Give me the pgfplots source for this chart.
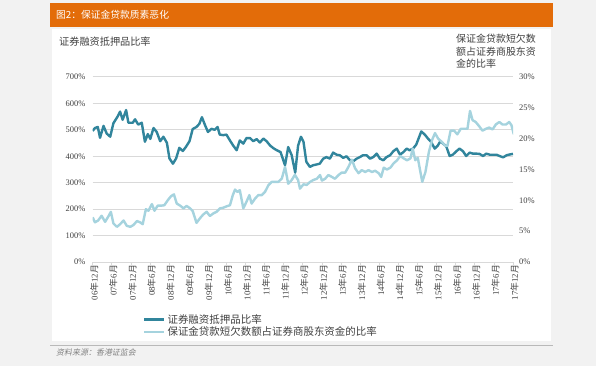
\documentclass[border=0pt]{standalone}
\usepackage{fontspec}
\setmainfont{Liberation Serif}
\newfontfamily\cjk{Noto Sans CJK SC}
\newfontfamily\cjkit[FakeSlant=0.2]{Noto Sans CJK SC}
\usepackage{pgfplots}
\pgfplotsset{compat=1.18}
\definecolor{bg}{HTML}{F2F2F2}
\definecolor{hdr}{HTML}{E36C09}
\definecolor{dark}{HTML}{31859C}
\definecolor{light}{HTML}{A5D3DE}
\definecolor{gridc}{HTML}{D9D9D9}
\definecolor{txt}{HTML}{404040}
\newcommand{\ym}[2]{#1{\cjk 年}#2{\cjk 月}}

\pgfplotstableread{
m v
0 496
0.7 507
1.6 511
2.3 470
3.4 515
4.4 486
5.5 474
6.5 525
7.8 550
8.6 569
9.4 538
10.5 575
11.2 527
12.6 527
13.3 540
14.3 520
15.4 527
16.4 455
17.3 484
18.1 466
19.1 507
20.1 492
21.2 457
22.2 474
23.3 451
24.1 392
25.2 372
26.2 392
27.2 432
28.3 420
29.3 436
30.4 457
31.4 503
32.6 511
33.5 523
34.3 548
35.2 520
36.2 492
37.3 504
38.3 500
39.2 511
39.9 482
41 480
42 482
43.1 460
44.1 441
45.2 423
46.2 460
47.3 448
48.3 469
49.4 469
50.4 457
51.5 465
52.5 452
53.6 467
54.6 457
55.7 441
56.7 431
57.8 423
59 416
60.4 366
61.4 435
62.5 404
63.6 338
64.5 440
65.4 474
66.2 455
67.1 379
68.2 360
69.2 366
70.3 369
71.3 372
72.4 391
73.4 397
74.5 391
75.5 414
76.6 406
77.6 404
78.7 394
79.7 400
80.8 385
81.8 381
82.9 391
83.9 397
84.9 404
86 404
87.1 391
88.1 397
89.2 410
90.2 391
91.3 385
92.3 397
93.4 404
94.4 419
95.5 429
96.5 406
97.6 416
98.6 429
99.5 423
100.6 429
101.6 444
103.2 494
104.3 482
105.3 467
106.3 454
107.4 429
108.4 441
109.2 457
110 448
111 439
112.1 401
113.1 406
114.2 419
115.2 429
116.3 419
117.3 401
118.4 414
119.4 410
120.5 410
121.5 409
122.6 401
123.6 410
124.7 406
125.7 406
126.8 406
127.8 401
128.9 396
130 404
131 407
132 409
}\darktab

\pgfplotstableread{
m v
0 7.24
0.7 6.43
1.7 6.73
2.8 7.5
3.9 6.51
4.9 7.37
5.7 8.14
6.5 6.26
7.6 5.7
8.6 6.13
9.7 6.73
10.7 5.87
11.8 5.7
12.8 6.0
13.9 6.64
14.9 6.43
15.7 6.13
16.7 8.57
17.5 8.31
18.6 9.39
19.4 8.31
20.4 9.13
21.5 9.13
22.5 9.21
23.6 10.03
24.6 10.67
25.5 10.97
26.4 9.47
27.5 9.13
28.5 8.7
29.5 9.09
30.6 8.7
31.4 8.27
32.6 6.35
33.7 7.1
34.7 7.7
35.8 8.14
36.8 7.46
37.9 7.89
38.9 8.14
40 8.7
41 8.8
42.1 9.04
43.1 9.2
44 10.84
44.7 11.74
45.5 11.36
46.2 11.66
47.3 8.7
48.3 9.77
49.2 10.84
49.9 9.47
51 10.29
52 10.84
53.1 10.84
54.1 11.36
55.2 12.47
56.2 12.99
57.3 12.99
58.3 12.99
59.4 13.54
60.4 15.43
61.4 12.69
62.5 13.29
63.5 14.14
64.5 13.29
65.1 11.9
66.2 12.6
67.2 12.5
68.3 13
69.3 13.3
70.4 13.5
71.4 14.1
72 13.2
73 13.5
74 14.1
75.1 13.8
76.1 13.5
77.2 14.1
78.2 14.5
79.3 14.5
80.3 15.4
81.4 16.6
82.4 15.2
83.5 14.4
84.5 14.9
85.6 14.6
86.6 14.9
87.7 14.6
88.7 14.8
89.8 14.4
90.6 13.8
91.4 15.3
92.4 15
93.5 15.3
94.5 16
95.6 16.5
96.6 17.2
97.7 16.8
98.7 16.5
99.8 16.8
100.5 18.4
101.3 16.5
102.1 16.9
102.7 15.2
103.5 13
104.5 14.6
105.6 17.9
106.6 19.8
107.5 20.9
108.5 20
109.6 19.5
110.6 18.9
111.4 18.8
112.4 21.3
113.5 21.3
114.5 20.7
115.6 21.6
116.6 21.6
117.7 21.6
118.5 24.5
119.3 23
120.3 22.7
121.4 22
122.4 21.3
123.5 21.6
124.5 21.8
125.6 21.5
126.6 22.3
127.7 22.7
128.7 22.3
129.8 22.3
130.8 22.7
131.5 22.2
132.2 20.8
132.8 20.7
}\lighttab

\begin{document}
\begin{tikzpicture}[x=1bp,y=1bp]
\fill[bg] (0,0) rectangle (596,366);
\fill[hdr] (50,339) rectangle (553,363);
\fill[white] (51.5,25) rectangle (551,337);
\draw[gray!55, line width=0.8bp] (50,20.5) -- (553,20.5);
\node[anchor=west, text=white, inner sep=0, font=\cjk\fontsize{9.8}{11}\selectfont] at (56,351) {图2：保证金贷款质素恶化};
\node[anchor=west, text=txt, inner sep=0, font=\cjk\fontsize{10.2}{12}\selectfont] at (59,324) {证券融资抵押品比率};
\node[anchor=north west, align=left, text=txt, inner sep=0, font=\cjk\fontsize{10}{12.5}\selectfont] at (456,332) {保证金贷款短欠数\\额占证券商股东资\\金的比率};
\node[anchor=west, text=gray, inner sep=0, font=\cjkit\fontsize{8}{10}\selectfont] at (56,14) {资料来源：香港证监会};

\begin{axis}[
  at={(92.7bp,104bp)}, anchor=south west, scale only axis,
  width=420.3bp, height=185bp,
  xmin=0, xmax=132, ymin=0, ymax=700,
  axis x line*=bottom, axis y line*=left,
  x axis line style={draw=gridc, line width=1bp, -},
  y axis line style={draw=none},
  ymajorgrids, grid style={draw=gridc, line width=1bp},
  ytick={0,100,...,700},
  yticklabels={0\%,100\%,200\%,300\%,400\%,500\%,600\%,700\%},
  ytick style={draw=none},
  yticklabel style={inner sep=0pt, xshift=-4bp, text=txt, font=\fontsize{8.5}{10}\selectfont},
  xtick={0,6,...,132},
  xticklabels={\ym{06}{12},\ym{07}{6},\ym{07}{12},\ym{08}{6},\ym{08}{12},\ym{09}{6},\ym{09}{12},\ym{10}{6},\ym{10}{12},\ym{11}{6},\ym{11}{12},\ym{12}{6},\ym{12}{12},\ym{13}{6},\ym{13}{12},\ym{14}{6},\ym{14}{12},\ym{15}{6},\ym{15}{12},\ym{16}{6},\ym{16}{12},\ym{17}{6},\ym{17}{12}},
  xtick style={draw=gridc, line width=0.8bp},
  tick align=outside, major tick length=3bp,
  xticklabel style={rotate=90, anchor=east, inner sep=0pt, yshift=-1.5bp, text=txt, font=\fontsize{8.8}{10}\selectfont},
  legend style={at={(0.1125,-0.2595)}, anchor=north west, draw=none, fill=none,
    font=\cjk\fontsize{10.5}{12}\selectfont, text=txt, row sep=-1.5bp},
  legend cell align=left,
  legend image code/.code={\draw[#1] (0bp,0bp) -- (20bp,0bp);},
]
\addplot[dark, line width=2.4bp, line join=round] table[x=m,y=v] {\darktab};
\addlegendentry{证券融资抵押品比率}
\addlegendimage{light, line width=2.4bp}
\addlegendentry{保证金贷款短欠数额占证券商股东资金的比率}
\end{axis}

\begin{axis}[
  at={(92.7bp,104bp)}, anchor=south west, scale only axis,
  width=420.3bp, height=185bp,
  xmin=0, xmax=132, ymin=0, ymax=30,
  axis x line=none, axis y line*=right,
  y axis line style={draw=none},
  ytick={0,5,...,30},
  yticklabels={0\%,5\%,10\%,15\%,20\%,25\%,30\%},
  ytick style={draw=none},
  yticklabel style={inner sep=0pt, anchor=west, xshift=6bp, text=txt, font=\fontsize{8.5}{10}\selectfont},
]
\addplot[light, line width=2.4bp, line join=round] table[x=m,y=v] {\lighttab};
\end{axis}
\end{tikzpicture}
\end{document}
